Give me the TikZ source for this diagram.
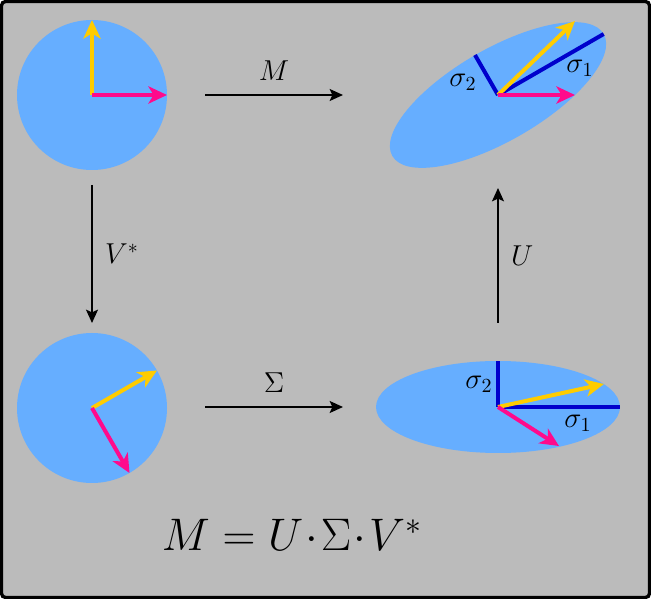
\documentclass[tikz,border=0pt]{standalone}
\usepackage{amsmath}
\usetikzlibrary{arrows.meta}
\definecolor{bgGray}{HTML}{BBBBBB}
\definecolor{diskBlue}{HTML}{66AEFF}
\definecolor{vecYellow}{HTML}{FFCC00}
\definecolor{vecPink}{HTML}{FF0A8C}
\definecolor{axisBlue}{HTML}{0000CC}
\tikzset{
  vec/.style={line width=3pt, -{Stealth[length=14pt,width=13pt,inset=4pt]}},
  map/.style={line width=1.2pt, -{Stealth[length=10pt,width=9pt,inset=2pt]}},
  semi/.style={line width=3pt, axisBlue},
  lbl/.style={font=\Large, scale=1.5}
}
\begin{document}
\begin{tikzpicture}[x=0.75pt,y=-0.75pt]
    % Frame and background (pixel coordinates, y downwards)
    \useasboundingbox (0,0) rectangle (651,599);
    \draw[line width=2.5pt, fill=bgGray, rounded corners=3pt] (1.5,1.5) rectangle (649.5,597.5);

    % Centres of the four shapes
    \coordinate (c1) at (92,95);
    \coordinate (c2) at (92,408);
    \coordinate (c3) at (498,407);
    \coordinate (c4) at (498,95);

    % Unit disk, top left
    \fill[diskBlue] (c1) circle (75);
    \draw[vec, vecYellow] (c1) -- ++(0,-75);
    \draw[vec, vecPink] (c1) -- ++(75,0);

    % Rotated disk, bottom left
    \fill[diskBlue] (c2) circle (75);
    \draw[vec, vecYellow] (c2) -- ++(65,-37.5);
    \draw[vec, vecPink] (c2) -- ++(37.5,65);

    % Stretched ellipse, bottom right
    \fill[diskBlue] (c3) ellipse [x radius=122, y radius=46];
    \draw[semi] (c3) -- ++(0,-46) coordinate (s2b);
    \draw[semi] (c3) -- ++(122,0) coordinate (s1b);
    \draw[vec, vecYellow] (c3) -- ++(106,-23);
    \draw[vec, vecPink] (c3) -- ++(61,39);
    \node[lbl] at (479,384) {$\sigma_2$};
    \node[lbl] at (578,423) {$\sigma_1$};

    % Rotated ellipse, top right
    \fill[diskBlue, rotate around={30:(c4)}] (c4) ellipse [x radius=122, y radius=46];
    \draw[semi] (c4) -- ++(105.7,-61) coordinate (s1t);
    \draw[semi] (c4) -- ++(-23,-40) coordinate (s2t);
    \draw[vec, vecYellow] (c4) -- ++(77,-74);
    \draw[vec, vecPink] (c4) -- ++(77,0);
    \node[lbl] at (463,82) {$\sigma_2$};
    \node[lbl] at (580,68) {$\sigma_1$};

    % Maps between the shapes
    \coordinate (mA) at (205,95);  \coordinate (mB) at (343,95);
    \coordinate (vA) at (92,185);  \coordinate (vB) at (92,323);
    \coordinate (sA) at (205,407); \coordinate (sB) at (343,407);
    \coordinate (uA) at (498,323); \coordinate (uB) at (498,188);
    \draw[map] (mA) -- (mB) node[midway, above=5pt, lbl] {$M$};
    \draw[map] (vA) -- (vB) node[midway, right=4pt, lbl] {$V^*$};
    \draw[map] (sA) -- (sB) node[midway, above=5pt, lbl] {$\Sigma$};
    \draw[map] (uA) -- (uB) node[midway, right=4pt, lbl] {$U$};

    \node[font=\huge, scale=1.65] (formula) at (292,535) {$M = U \!\cdot\! \Sigma \!\cdot\! V^*$};
\end{tikzpicture}
\end{document}
